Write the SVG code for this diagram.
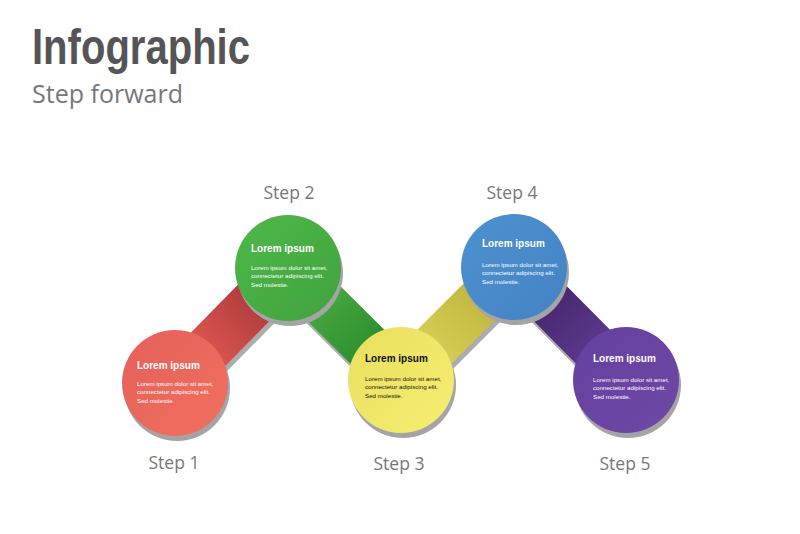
<svg xmlns="http://www.w3.org/2000/svg" width="800" height="534" viewBox="0 0 800 534">
<defs>
<style>
.title{font-family:"Liberation Sans",Arial,sans-serif;font-weight:bold;fill:#555557}
.sub{font-family:"Open Sans","Liberation Sans",sans-serif;fill:#77777a}
.step{font-family:"Open Sans","Liberation Sans",sans-serif;font-size:18px;fill:#77777a;text-anchor:middle}
.h{font-family:"Liberation Sans",Arial,sans-serif;font-weight:bold;font-size:10px;fill:#ffffff}
.b{font-family:"Liberation Sans",Arial,sans-serif;font-size:6.2px;fill:#ffffff}
.dark .h,.dark .b{fill:#111111}
.sh{fill:#a4a4a6}
.bsh{stroke:#acacae;stroke-width:48;fill:none}
.band{stroke-width:48;fill:none}
</style>
<linearGradient id="gRed" x1="0" y1="0" x2="1" y2="1"><stop offset="0" stop-color="#e4605a"/><stop offset="1" stop-color="#f2705f"/></linearGradient>
<linearGradient id="gGreen" x1="0" y1="0" x2="1" y2="1"><stop offset="0" stop-color="#4fb84a"/><stop offset="1" stop-color="#3fa33c"/></linearGradient>
<linearGradient id="gYellow" x1="0" y1="0" x2="1" y2="1"><stop offset="0" stop-color="#e9df5e"/><stop offset="1" stop-color="#f6ee72"/></linearGradient>
<linearGradient id="gBlue" x1="0" y1="0" x2="1" y2="1"><stop offset="0" stop-color="#4c92d2"/><stop offset="1" stop-color="#4582c2"/></linearGradient>
<linearGradient id="gPurple" x1="0" y1="0" x2="1" y2="1"><stop offset="0" stop-color="#6440a0"/><stop offset="1" stop-color="#6e48a4"/></linearGradient>
<linearGradient id="bRed" gradientUnits="userSpaceOnUse" x1="175" y1="383" x2="288" y2="268"><stop offset="0.3" stop-color="#d9534e"/><stop offset="0.8" stop-color="#a8393a"/></linearGradient>
<linearGradient id="bGreen" gradientUnits="userSpaceOnUse" x1="288" y1="268" x2="401" y2="380"><stop offset="0.3" stop-color="#45a73f"/><stop offset="0.8" stop-color="#2a8a2c"/></linearGradient>
<linearGradient id="bYellow" gradientUnits="userSpaceOnUse" x1="401" y1="380" x2="514" y2="267"><stop offset="0.3" stop-color="#d4cc52"/><stop offset="0.8" stop-color="#bdb43e"/></linearGradient>
<linearGradient id="bPurple" gradientUnits="userSpaceOnUse" x1="514" y1="267" x2="626" y2="380"><stop offset="0.3" stop-color="#48296f"/><stop offset="0.8" stop-color="#5d3a92"/></linearGradient>
</defs>
<rect width="800" height="534" fill="#ffffff"/>
<g id="header">
<text class="title" x="32" y="64" font-size="50" textLength="218" lengthAdjust="spacingAndGlyphs">Infographic</text>
<text class="sub" x="32" y="103" font-size="26" textLength="151" lengthAdjust="spacingAndGlyphs">Step forward</text>
</g>
<g id="connectors">
<line class="bsh" x1="177" y1="388" x2="290" y2="273"/>
<line class="band" stroke="url(#bRed)" x1="175" y1="383" x2="288" y2="268"/>
<line class="bsh" x1="290" y1="273" x2="403" y2="385"/>
<line class="band" stroke="url(#bGreen)" x1="288" y1="268" x2="401" y2="380"/>
<line class="bsh" x1="403" y1="385" x2="516" y2="272"/>
<line class="band" stroke="url(#bYellow)" x1="401" y1="380" x2="514" y2="267"/>
<line class="bsh" x1="516" y1="272" x2="628" y2="385"/>
<line class="band" stroke="url(#bPurple)" x1="514" y1="267" x2="626" y2="380"/>
</g>
<g id="step1">
<circle class="sh" cx="177" cy="388" r="53"/>
<circle cx="175" cy="383" r="53" fill="url(#gRed)"/>
<text class="h" x="137" y="369">Lorem ipsum</text>
<text class="b" x="137" y="386">Lorem ipsum dolor sit amet,</text>
<text class="b" x="137" y="394">connectetur adipiscing elit.</text>
<text class="b" x="137" y="403">Sed molestie.</text>
<text class="step" x="174" y="469" textLength="51" lengthAdjust="spacingAndGlyphs">Step 1</text>
</g>
<g id="step2">
<circle class="sh" cx="290" cy="273" r="53"/>
<circle cx="288" cy="268" r="53" fill="url(#gGreen)"/>
<text class="h" x="251" y="252">Lorem ipsum</text>
<text class="b" x="251" y="270">Lorem ipsum dolor sit amet,</text>
<text class="b" x="251" y="278">connectetur adipiscing elit.</text>
<text class="b" x="251" y="287">Sed molestie.</text>
<text class="step" x="289" y="199" textLength="51" lengthAdjust="spacingAndGlyphs">Step 2</text>
</g>
<g id="step3" class="dark">
<circle class="sh" cx="403" cy="385" r="53"/>
<circle cx="401" cy="380" r="53" fill="url(#gYellow)"/>
<text class="h" x="365" y="362">Lorem ipsum</text>
<text class="b" x="365" y="381">Lorem ipsum dolor sit amet,</text>
<text class="b" x="365" y="389">connectetur adipiscing elit.</text>
<text class="b" x="365" y="398">Sed molestie.</text>
<text class="step" x="399" y="470" textLength="51" lengthAdjust="spacingAndGlyphs">Step 3</text>
</g>
<g id="step4">
<circle class="sh" cx="516" cy="272" r="53"/>
<circle cx="514" cy="267" r="53" fill="url(#gBlue)"/>
<text class="h" x="482" y="247">Lorem ipsum</text>
<text class="b" x="482" y="267">Lorem ipsum dolor sit amet,</text>
<text class="b" x="482" y="275">connectetur adipiscing elit.</text>
<text class="b" x="482" y="284">Sed molestie.</text>
<text class="step" x="512" y="199" textLength="51" lengthAdjust="spacingAndGlyphs">Step 4</text>
</g>
<g id="step5">
<circle class="sh" cx="628" cy="385" r="53"/>
<circle cx="626" cy="380" r="53" fill="url(#gPurple)"/>
<text class="h" x="593" y="362">Lorem ipsum</text>
<text class="b" x="593" y="382">Lorem ipsum dolor sit amet,</text>
<text class="b" x="593" y="390">connectetur adipiscing elit.</text>
<text class="b" x="593" y="399">Sed molestie.</text>
<text class="step" x="625" y="470" textLength="51" lengthAdjust="spacingAndGlyphs">Step 5</text>
</g>
</svg>
